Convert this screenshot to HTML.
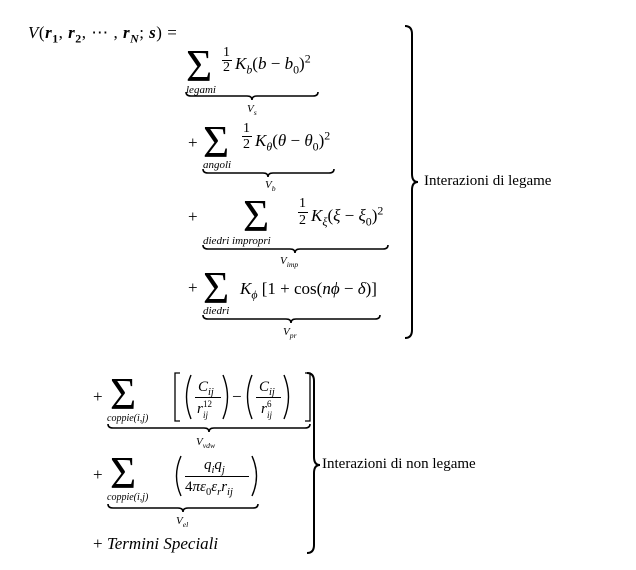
<!DOCTYPE html>
<html><head><meta charset="utf-8"><style>
body{margin:0;background:#fff;width:636px;height:570px;position:relative;overflow:hidden;font-family:"Liberation Serif",serif;color:#000}
.t{position:absolute;white-space:nowrap;line-height:1}
.s{font-size:17px}
.sg{font-size:45px}
.sm{font-size:11px;font-style:italic}
i{font-style:italic}
sub,sup{font-size:70%;line-height:0}
svg{position:absolute;left:0;top:0}
</style></head><body>
<svg width="636" height="570" fill="none" stroke="#000" stroke-width="1.6">
<path d="M186,92 q0,4 5,4 L247,96 q5,0 5,4 q0,-4 5,-4 L313,96 q5,0 5,-4"/>
<path d="M203,169 q0,4 5,4 L263,173 q5,0 5,4 q0,-4 5,-4 L329,173 q5,0 5,-4"/>
<path d="M203,245 q0,4 5,4 L290,249 q5,0 5,4 q0,-4 5,-4 L383,249 q5,0 5,-4"/>
<path d="M203,315 q0,4 5,4 L286,319 q5,0 5,4 q0,-4 5,-4 L375,319 q5,0 5,-4"/>
<path d="M108,424 q0,4 5,4 L204,428 q5,0 5,4 q0,-4 5,-4 L305,428 q5,0 5,-4"/>
<path d="M108,504 q0,4 5,4 L178,508 q5,0 5,4 q0,-4 5,-4 L253,508 q5,0 5,-4"/>
<path d="M405,26 q7,0 7,8 L412,174 q0,8 6,8 q-6,0 -6,8 L412,330 q0,8 -7,8" stroke-width="2"/>
<path d="M307,373 q7,0 7,8 L314,457 q0,8 6,8 q-6,0 -6,8 L314,545 q0,8 -7,8" stroke-width="2"/>
<path d="M222,60.5 H232 M242,136.5 H252 M298,212.5 H308 M195,397.5 H221 M256,397.5 H281 M185,476.5 H249" stroke-width="0.9"/>
<path d="M180,373 H175 V421 H180 M305,373 H310 V421 H305" stroke-width="1.3"/>
<path d="M191,375 q-9,22 0,44 M223,375 q9,22 0,44 M252,375 q-9,22 0,44 M284,375 q9,22 0,44" stroke-width="1.4"/>
<path d="M181,456 q-9,20 0,40 M252,456 q9,20 0,40" stroke-width="1.4"/>
</svg>

<span class="t s" style="left:28px;top:24px;letter-spacing:0.5px"><i>V</i>(<b><i>r</i></b><sub><b>1</b></sub>, <b><i>r</i></b><sub><b>2</b></sub>, ⋯ , <b><i>r</i></b><sub><b><i>N</i></b></sub>; <b><i>s</i></b>) =</span>

<span class="t sg" style="left:186px;top:44px">Σ</span>
<span class="t sm" style="left:186px;top:85px">legami</span>
<span class="t" style="left:223px;top:46px;font-size:14px">1</span>
<span class="t" style="left:223px;top:61px;font-size:14px">2</span>
<span class="t s" style="left:235px;top:55px"><i>K</i><sub><i>b</i></sub>(<i>b</i> − <i>b</i><sub>0</sub>)<sup>2</sup></span>
<span class="t" style="left:247px;top:104px;font-size:11px"><i>V<sub>s</sub></i></span>

<span class="t s" style="left:188px;top:134px">+</span>
<span class="t sg" style="left:203px;top:120px">Σ</span>
<span class="t sm" style="left:203px;top:160px">angoli</span>
<span class="t" style="left:243px;top:122px;font-size:14px">1</span>
<span class="t" style="left:243px;top:138px;font-size:14px">2</span>
<span class="t s" style="left:255px;top:132px"><i>K</i><sub><i>θ</i></sub>(<i>θ</i> − <i>θ</i><sub>0</sub>)<sup>2</sup></span>
<span class="t" style="left:265px;top:180px;font-size:11px"><i>V<sub>b</sub></i></span>

<span class="t s" style="left:188px;top:208px">+</span>
<span class="t sg" style="left:243px;top:194px">Σ</span>
<span class="t sm" style="left:203px;top:236px">diedri impropri</span>
<span class="t" style="left:299px;top:197px;font-size:14px">1</span>
<span class="t" style="left:299px;top:214px;font-size:14px">2</span>
<span class="t s" style="left:311px;top:207px"><i>K</i><sub><i>ξ</i></sub>(<i>ξ</i> − <i>ξ</i><sub>0</sub>)<sup>2</sup></span>
<span class="t" style="left:280px;top:256px;font-size:11px"><i>V<sub>imp</sub></i></span>

<span class="t s" style="left:188px;top:279px">+</span>
<span class="t sg" style="left:203px;top:266px">Σ</span>
<span class="t sm" style="left:203px;top:306px">diedri</span>
<span class="t s" style="left:240px;top:280px"><i>K</i><sub><i>ϕ</i></sub> [1 + cos(<i>nϕ</i> − <i>δ</i>)]</span>
<span class="t" style="left:283px;top:327px;font-size:11px"><i>V<sub>pr</sub></i></span>

<span class="t" style="left:424px;top:174px;font-size:15px">Interazioni di legame</span>

<span class="t s" style="left:93px;top:388px">+</span>
<span class="t sg" style="left:110px;top:372px">Σ</span>
<span class="t" style="left:107px;top:414px;font-size:10px;font-style:italic">coppie(i,j)</span>
<span class="t" style="left:198px;top:380px;font-size:15px"><i>C<sub>ij</sub></i></span>
<span class="t" style="left:197px;top:402px;font-size:15px"><i>r</i></span>
<span class="t" style="left:203px;top:400px;font-size:9px">12</span>
<span class="t" style="left:203px;top:411px;font-size:9px;font-style:italic">ij</span>
<span class="t s" style="left:232px;top:388px">−</span>
<span class="t" style="left:259px;top:380px;font-size:15px"><i>C<sub>ij</sub></i></span>
<span class="t" style="left:261px;top:402px;font-size:15px"><i>r</i></span>
<span class="t" style="left:267px;top:400px;font-size:9px">6</span>
<span class="t" style="left:267px;top:411px;font-size:9px;font-style:italic">ij</span>
<span class="t" style="left:196px;top:437px;font-size:11px"><i>V<sub>vdw</sub></i></span>

<span class="t s" style="left:93px;top:466px">+</span>
<span class="t sg" style="left:110px;top:451px">Σ</span>
<span class="t" style="left:107px;top:493px;font-size:10px;font-style:italic">coppie(i,j)</span>
<span class="t" style="left:204px;top:458px;font-size:15px"><i>q<sub>i</sub>q<sub>j</sub></i></span>
<span class="t" style="left:185px;top:480px;font-size:15px">4<i>πε</i><sub>0</sub><i>ε<sub>r</sub>r<sub>ij</sub></i></span>
<span class="t" style="left:176px;top:516px;font-size:11px"><i>V<sub>el</sub></i></span>

<span class="t s" style="left:93px;top:535px">+ <i>Termini Speciali</i></span>

<span class="t" style="left:322px;top:457px;font-size:15px">Interazioni di non legame</span>
</body></html>
